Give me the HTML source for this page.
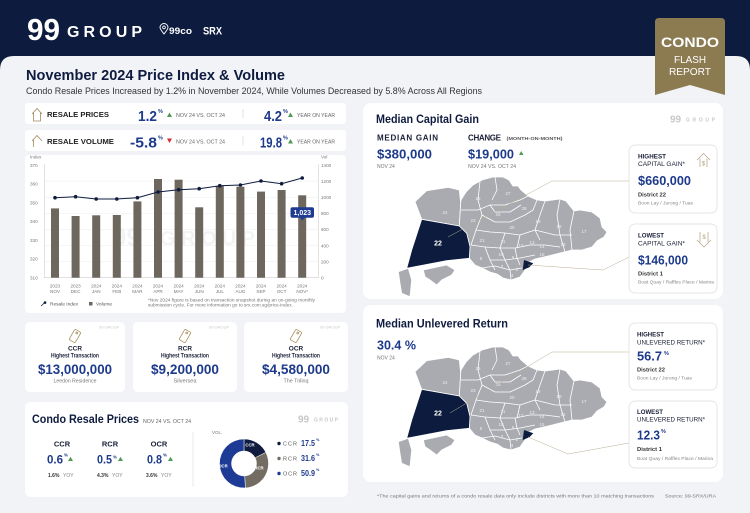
<!DOCTYPE html>
<html><head><meta charset="utf-8"><style>html,body{margin:0;padding:0;background:#f1f3f7}svg{display:block}</style></head>
<body>
<svg width="750" height="513" viewBox="0 0 750 513" xmlns="http://www.w3.org/2000/svg" font-family="'Liberation Sans', sans-serif">
<rect width="750" height="513" fill="#0c1b3e"/>
<path d="M0,70 Q0,56 14,56 L736,56 Q750,56 750,70 L750,513 L0,513 Z" fill="#f1f3f7"/>

<!-- header logo -->
<text x="27" y="40" font-size="31" font-weight="bold" fill="#fff" textLength="33" lengthAdjust="spacingAndGlyphs">99</text>
<text x="67" y="37" font-size="16" font-weight="bold" fill="#fff" textLength="75" lengthAdjust="spacing">GROUP</text>
<path d="M164,34 C161,30 160,29 160,27.5 A4,4 0 0 1 168,27.5 C168,29 167,30 164,34 Z M164,26 A1.4,1.4 0 1 0 164.01,26 Z" fill="none" stroke="#fff" stroke-width="0.9"/>
<text x="169" y="34" font-size="9.5" font-weight="bold" fill="#fff" textLength="23" lengthAdjust="spacingAndGlyphs">99co</text>
<text x="203" y="34.5" font-size="11" font-weight="bold" fill="#fff" textLength="19" lengthAdjust="spacingAndGlyphs">SRX</text>

<!-- ribbon -->
<path d="M655,22 Q655,18 659,18 L721,18 Q725,18 725,22 L725,95 L690,85 L655,95 Z" fill="#8c7a51"/>
<text x="690" y="47" font-size="14" font-weight="bold" fill="#fff" text-anchor="middle" textLength="58" lengthAdjust="spacingAndGlyphs">CONDO</text>
<text x="690" y="63" font-size="10" fill="#fff" text-anchor="middle" textLength="32" lengthAdjust="spacingAndGlyphs">FLASH</text>
<text x="690" y="75" font-size="10" fill="#fff" text-anchor="middle" textLength="42" lengthAdjust="spacingAndGlyphs">REPORT</text>

<!-- title -->
<text x="26" y="80" font-size="15" font-weight="bold" fill="#0f1c3f" textLength="259" lengthAdjust="spacingAndGlyphs">November 2024 Price Index &amp; Volume</text>
<text x="26" y="94" font-size="9" fill="#333" textLength="456" lengthAdjust="spacingAndGlyphs">Condo Resale Prices Increased by 1.2% in November 2024, While Volumes Decreased by 5.8% Across All Regions</text>

<!-- resale rows -->
<rect x="25" y="103" width="321" height="21" rx="3" fill="#fff"/>
<rect x="25" y="130" width="321" height="21" rx="3" fill="#fff"/>
<path d="M32,114 L37,108.5 L42,114 M33.5,112.5 V121 H40.5 V112.5" fill="none" stroke="#a08a5a" stroke-width="0.8"/>
<path d="M32,141 L37,135.5 L42,141 M33.5,139.5 V147" fill="none" stroke="#a08a5a" stroke-width="0.8"/>
<text x="47" y="117" font-size="7.5" font-weight="bold" fill="#222" textLength="62" lengthAdjust="spacingAndGlyphs">RESALE PRICES</text>
<text x="138" y="121" font-size="15" font-weight="bold" fill="#1d3a8c" textLength="19" lengthAdjust="spacingAndGlyphs">1.2</text>
<text x="158" y="113" font-size="5.5" font-weight="bold" fill="#1d3a8c">%</text>
<polygon points="167,117 172,117 169.5,112.5" fill="#4f9a57"/>
<text x="176" y="117" font-size="5" fill="#666" textLength="49" lengthAdjust="spacingAndGlyphs">NOV 24 VS. OCT 24</text>
<line x1="243" y1="109" x2="243" y2="118" stroke="#ccc" stroke-width="0.6"/>
<text x="264" y="121" font-size="15" font-weight="bold" fill="#1d3a8c" textLength="18" lengthAdjust="spacingAndGlyphs">4.2</text>
<text x="283" y="113" font-size="5.5" font-weight="bold" fill="#1d3a8c">%</text>
<polygon points="288,117 293,117 290.5,112.5" fill="#4f9a57"/>
<text x="297" y="117" font-size="5" fill="#666" textLength="38" lengthAdjust="spacingAndGlyphs">YEAR ON YEAR</text>

<text x="47" y="144" font-size="7.5" font-weight="bold" fill="#222" textLength="67" lengthAdjust="spacingAndGlyphs">RESALE VOLUME</text>
<text x="130" y="147.5" font-size="15" font-weight="bold" fill="#1d3a8c" textLength="27" lengthAdjust="spacingAndGlyphs">-5.8</text>
<text x="158" y="139.5" font-size="5.5" font-weight="bold" fill="#1d3a8c">%</text>
<polygon points="167,138.5 172,138.5 169.5,143" fill="#d62c2c"/>
<text x="176" y="143.5" font-size="5" fill="#666" textLength="49" lengthAdjust="spacingAndGlyphs">NOV 24 VS. OCT 24</text>
<line x1="243" y1="136" x2="243" y2="145" stroke="#ccc" stroke-width="0.6"/>
<text x="260" y="147.5" font-size="15" font-weight="bold" fill="#1d3a8c" textLength="22" lengthAdjust="spacingAndGlyphs">19.8</text>
<text x="283" y="139.5" font-size="5.5" font-weight="bold" fill="#1d3a8c">%</text>
<polygon points="288,143.5 293,143.5 290.5,139" fill="#4f9a57"/>
<text x="297" y="143.5" font-size="5" fill="#666" textLength="38" lengthAdjust="spacingAndGlyphs">YEAR ON YEAR</text>

<!-- chart card -->
<rect x="25" y="155" width="321" height="158" rx="4" fill="#fff"/>
<text x="112" y="246" font-size="26" font-weight="bold" fill="#000" opacity="0.045">99</text>
<text x="160" y="245" font-size="20" font-weight="bold" fill="#000" opacity="0.045" textLength="95" lengthAdjust="spacing">GROUP</text>
<g stroke="#ececec" stroke-width="0.5">
<line x1="44" y1="181.1" x2="318" y2="181.1"/><line x1="44" y1="197.2" x2="318" y2="197.2"/><line x1="44" y1="213.3" x2="318" y2="213.3"/><line x1="44" y1="229.4" x2="318" y2="229.4"/><line x1="44" y1="245.5" x2="318" y2="245.5"/><line x1="44" y1="261.6" x2="318" y2="261.6"/>
</g>
<g stroke="#cfcfcf" stroke-width="0.6">
<line x1="44.3" y1="164" x2="44.3" y2="277.7"/><line x1="318.3" y1="164" x2="318.3" y2="277.7"/><line x1="44" y1="277.7" x2="318.3" y2="277.7"/>
</g>
<g font-size="4.6" fill="#777">
<text x="30" y="158.5">Index</text><text x="321" y="158.5">Vol</text>
<text x="30" y="166.8">370</text><text x="30" y="185.6">360</text><text x="30" y="204.4">350</text><text x="30" y="223.2">340</text><text x="30" y="241.9">330</text><text x="30" y="260.7">320</text><text x="30" y="279.5">310</text>
<text x="321" y="166.8">1400</text><text x="321" y="182.9">1200</text><text x="321" y="199">1000</text><text x="321" y="215.1">800</text><text x="321" y="231.2">600</text><text x="321" y="247.3">400</text><text x="321" y="263.4">200</text><text x="321" y="279.5">0</text>
</g>
<g fill="#6e675e">
<rect x="51" y="208.4" width="8" height="69.3"/><rect x="71.6" y="216" width="8" height="61.7"/><rect x="92.2" y="215.3" width="8" height="62.4"/><rect x="112.8" y="215" width="8" height="62.7"/><rect x="133.4" y="201.4" width="8" height="76.3"/><rect x="154" y="179" width="8" height="98.7"/><rect x="174.6" y="179.7" width="8" height="98"/><rect x="195.2" y="207.3" width="8" height="70.4"/><rect x="215.8" y="186" width="8" height="91.7"/><rect x="236.4" y="186.7" width="8" height="91"/><rect x="257" y="191.6" width="8" height="86.1"/><rect x="277.6" y="190" width="8" height="87.7"/><rect x="298.2" y="195.3" width="8" height="82.4"/>
</g>
<polyline points="55,197.7 75.6,196.7 96.2,199 116.8,199 137.4,197.7 158,192 178.6,189.7 199.2,188.7 219.8,185.7 240.4,185 261,181 281.6,183.7 302.2,178" fill="none" stroke="#0f1c3f" stroke-width="1"/>
<g fill="#0f1c3f">
<circle cx="55" cy="197.7" r="1.8"/><circle cx="75.6" cy="196.7" r="1.8"/><circle cx="96.2" cy="199" r="1.8"/><circle cx="116.8" cy="199" r="1.8"/><circle cx="137.4" cy="197.7" r="1.8"/><circle cx="158" cy="192" r="1.8"/><circle cx="178.6" cy="189.7" r="1.8"/><circle cx="199.2" cy="188.7" r="1.8"/><circle cx="219.8" cy="185.7" r="1.8"/><circle cx="240.4" cy="185" r="1.8"/><circle cx="261" cy="181" r="1.8"/><circle cx="281.6" cy="183.7" r="1.8"/><circle cx="302.2" cy="178" r="1.8"/>
</g>
<rect x="290.5" y="207.3" width="23.5" height="10.5" rx="2" fill="#1f3a93"/>
<polygon points="300,217.6 304.6,217.6 302.3,220.5" fill="#1f3a93"/>
<text x="302.3" y="215" font-size="7" font-weight="bold" fill="#fff" text-anchor="middle">1,023</text>
<g font-size="4.6" fill="#777" text-anchor="middle">
<text x="55" y="287.5">2023</text><text x="55" y="292.8">NOV</text>
<text x="75.6" y="287.5">2023</text><text x="75.6" y="292.8">DEC</text>
<text x="96.2" y="287.5">2024</text><text x="96.2" y="292.8">JAN</text>
<text x="116.8" y="287.5">2024</text><text x="116.8" y="292.8">FEB</text>
<text x="137.4" y="287.5">2024</text><text x="137.4" y="292.8">MAR</text>
<text x="158" y="287.5">2024</text><text x="158" y="292.8">APR</text>
<text x="178.6" y="287.5">2024</text><text x="178.6" y="292.8">MAY</text>
<text x="199.2" y="287.5">2024</text><text x="199.2" y="292.8">JUN</text>
<text x="219.8" y="287.5">2024</text><text x="219.8" y="292.8">JUL</text>
<text x="240.4" y="287.5">2024</text><text x="240.4" y="292.8">AUG</text>
<text x="261" y="287.5">2024</text><text x="261" y="292.8">SEP</text>
<text x="281.6" y="287.5">2024</text><text x="281.6" y="292.8">OCT</text>
<text x="302.2" y="287.5">2024</text><text x="302.2" y="292.8">NOV*</text>
</g>
<line x1="41" y1="306" x2="45.5" y2="302" stroke="#0f1c3f" stroke-width="0.8"/><circle cx="45" cy="302.6" r="1.3" fill="#0f1c3f"/>
<text x="50" y="305.5" font-size="4.8" fill="#555">Resale Index</text>
<rect x="89" y="302" width="3.5" height="3.5" fill="#6e675e"/>
<text x="96" y="305.5" font-size="4.8" fill="#555">Volume</text>
<text x="148" y="301.7" font-size="4.2" fill="#777" textLength="167" lengthAdjust="spacingAndGlyphs">*Nov 2024 figure is based on transaction snapshot during an on-going monthly</text>
<text x="148" y="306.7" font-size="4.2" fill="#777" textLength="145" lengthAdjust="spacingAndGlyphs">submission cycle. For more information go to srx.com.sg/price-index.</text>

<!-- transaction cards -->
<rect x="25" y="322" width="100" height="70" rx="5" fill="#fff"/>
<rect x="133" y="322" width="104" height="70" rx="5" fill="#fff"/>
<rect x="244" y="322" width="104" height="70" rx="5" fill="#fff"/>
<g fill="none" stroke="#a88f5c" stroke-width="0.8">
<g transform="translate(75,336) rotate(30)"><rect x="-3.5" y="-6" width="7" height="12" rx="1.5"/><circle cx="0" cy="-3.5" r="0.9"/></g>
<g transform="translate(185,336) rotate(30)"><rect x="-3.5" y="-6" width="7" height="12" rx="1.5"/><circle cx="0" cy="-3.5" r="0.9"/></g>
<g transform="translate(296,336) rotate(30)"><rect x="-3.5" y="-6" width="7" height="12" rx="1.5"/><circle cx="0" cy="-3.5" r="0.9"/></g>
</g>
<g font-size="4" fill="#ccc">
<text x="99" y="328.5">99 GROUP</text><text x="209" y="328.5">99 GROUP</text><text x="320" y="328.5">99 GROUP</text>
</g>
<g text-anchor="middle">
<text x="75" y="350.7" font-size="6.5" font-weight="bold" fill="#1a1f36">CCR</text>
<text x="75" y="357.3" font-size="6.5" font-weight="bold" fill="#1a1f36" textLength="48" lengthAdjust="spacingAndGlyphs">Highest Transaction</text>
<text x="75" y="374" font-size="13.5" font-weight="bold" fill="#1d3a8c" textLength="74" lengthAdjust="spacingAndGlyphs">$13,000,000</text>
<text x="75" y="382.7" font-size="5" fill="#777" textLength="43" lengthAdjust="spacingAndGlyphs">Leedon Residence</text>
<text x="185" y="350.7" font-size="6.5" font-weight="bold" fill="#1a1f36">RCR</text>
<text x="185" y="357.3" font-size="6.5" font-weight="bold" fill="#1a1f36" textLength="48" lengthAdjust="spacingAndGlyphs">Highest Transaction</text>
<text x="185" y="374" font-size="13.5" font-weight="bold" fill="#1d3a8c" textLength="68" lengthAdjust="spacingAndGlyphs">$9,200,000</text>
<text x="185" y="382.7" font-size="5" fill="#777" textLength="23" lengthAdjust="spacingAndGlyphs">Silversea</text>
<text x="296" y="350.7" font-size="6.5" font-weight="bold" fill="#1a1f36">OCR</text>
<text x="296" y="357.3" font-size="6.5" font-weight="bold" fill="#1a1f36" textLength="48" lengthAdjust="spacingAndGlyphs">Highest Transaction</text>
<text x="296" y="374" font-size="13.5" font-weight="bold" fill="#1d3a8c" textLength="68" lengthAdjust="spacingAndGlyphs">$4,580,000</text>
<text x="296" y="382.7" font-size="5" fill="#777" textLength="25" lengthAdjust="spacingAndGlyphs">The Trilinq</text>
</g>

<!-- condo resale prices card -->
<rect x="25" y="402" width="323" height="95" rx="6" fill="#fff"/>
<text x="32" y="423" font-size="11.5" font-weight="bold" fill="#0f1c3f" textLength="107" lengthAdjust="spacingAndGlyphs">Condo Resale Prices</text>
<text x="143" y="423" font-size="5" fill="#666" textLength="48" lengthAdjust="spacingAndGlyphs">NOV 24 VS. OCT 24</text>
<text x="298" y="422.5" font-size="10" font-weight="bold" fill="#c8c8c8">99</text>
<text x="314" y="421.5" font-size="5" font-weight="bold" fill="#c8c8c8" textLength="24" lengthAdjust="spacing">GROUP</text>
<g font-size="7.5" font-weight="bold" fill="#1a1f36" text-anchor="middle">
<text x="62" y="446.7">CCR</text><text x="110" y="446.7">RCR</text><text x="159" y="446.7">OCR</text>
</g>
<g font-size="12" font-weight="bold" fill="#1d3a8c">
<text x="47" y="463.3" textLength="16" lengthAdjust="spacingAndGlyphs">0.6</text>
<text x="97" y="463.3" textLength="15" lengthAdjust="spacingAndGlyphs">0.5</text>
<text x="147" y="463.3" textLength="15" lengthAdjust="spacingAndGlyphs">0.8</text>
</g>
<g font-size="4.5" font-weight="bold" fill="#1d3a8c">
<text x="64" y="456.5">%</text><text x="113" y="458.5">%</text><text x="163" y="456.5">%</text>
</g>
<g fill="#4f9a57">
<polygon points="68,461 73,461 70.5,456.8"/><polygon points="118,461 123,461 120.5,456.8"/><polygon points="168,461 173,461 170.5,456.8"/>
</g>
<g font-size="5">
<text x="48" y="477" fill="#333" font-weight="bold">1.6%</text><text x="63" y="477" fill="#888">YOY</text>
<text x="97" y="477" fill="#333" font-weight="bold">4.3%</text><text x="112" y="477" fill="#888">YOY</text>
<text x="146" y="477" fill="#333" font-weight="bold">3.6%</text><text x="161" y="477" fill="#888">YOY</text>
</g>
<line x1="193" y1="432" x2="193" y2="487" stroke="#e0e0e0" stroke-width="0.7"/>
<text x="212" y="434" font-size="4.5" fill="#777">VOL.</text>
<g stroke="#fff" stroke-width="0.5">
<path d="M244,439 A24.5,24.5 0 0 1 265.83,452.38 L255.14,457.82 A12.5,12.5 0 0 0 244,451 Z" fill="#0f1c3f"/>
<path d="M265.83,452.38 A24.5,24.5 0 0 1 245.37,487.96 L244.7,475.98 A12.5,12.5 0 0 0 255.14,457.82 Z" fill="#736c62"/>
<path d="M245.37,487.96 A24.5,24.5 0 1 1 244,439 L244,451 A12.5,12.5 0 1 0 244.7,475.98 Z" fill="#1d3a94"/>
</g>
<g font-size="4.3" font-weight="bold" fill="#fff" text-anchor="middle">
<text x="250" y="446.5">CCR</text><text x="259" y="469.5">RCR</text><text x="223" y="467.5">OCR</text>
</g>
<circle cx="279" cy="443.5" r="1.7" fill="#0f1c3f"/>
<circle cx="279" cy="458.5" r="1.7" fill="#736c62"/>
<circle cx="279" cy="473.5" r="1.7" fill="#1d3a94"/>
<g font-size="5.5" fill="#555">
<text x="283" y="445.5" textLength="14" lengthAdjust="spacing">CCR</text>
<text x="283" y="460.5" textLength="14" lengthAdjust="spacing">RCR</text>
<text x="283" y="475.5" textLength="14" lengthAdjust="spacing">OCR</text>
</g>
<g font-size="8" font-weight="bold" fill="#1d3a8c">
<text x="301" y="446" textLength="14" lengthAdjust="spacingAndGlyphs">17.5</text>
<text x="301" y="461" textLength="14" lengthAdjust="spacingAndGlyphs">31.6</text>
<text x="301" y="476" textLength="14" lengthAdjust="spacingAndGlyphs">50.9</text>
</g>
<g font-size="3.8" font-weight="bold" fill="#1d3a8c">
<text x="316" y="441">%</text><text x="316" y="456">%</text><text x="316" y="471">%</text>
</g>

<!-- right cards -->
<rect x="363" y="103" width="360" height="196" rx="8" fill="#fff"/>
<rect x="363" y="305" width="360" height="177" rx="8" fill="#fff"/>

<defs>
<g id="sgmap" stroke="#fff" stroke-width="0.8" stroke-linejoin="round">
<polygon fill="#a9abb0" points="415,201.7 426.7,190.7 448.3,187.3 459.3,190 460.7,203.3 459.3,226 421.7,219.3"/>
<polygon fill="#a9abb0" points="398.3,271.7 408.3,268.3 411.7,280 410,296.7 401.7,293.3 400,283.3"/>
<polygon fill="#a9abb0" points="423.3,270 446.7,265 455,270 451.7,275 441.7,280 436.7,285 430,280 425,276.7"/>
<polygon fill="#a9abb0" points="461,200 466,192 473,185 482,180 493,177 503,177 509,180 513,186 518,186 521,190 528,196 537,200 545,201 553,200 560,199 566,201 570,206 574,211 580,210 592,212 600,218 602,227 607,232 604,237 597,241 592,247 582,250 572,250 560,253 548,256 535,259 529,262 525,270 520,277 511,280 503,278 497,274 490,272 482,268 475,265 469.3,258.3 470,246.7 466.7,233.3 459.3,226 460.7,203.3"/>
<polygon fill="#0c1b3e" points="421.7,219.3 459.3,226 466.7,233.3 470,246.7 469.3,258.3 446.7,260.7 406.7,268.3 411.7,250"/>
<g fill="none">
<polyline points="480,181 478,200 482,215 476,230 471,245"/>
<polyline points="495,177 497,190 492,200"/>
<polyline points="461,210 478,210 490,205 505,205 520,200 528,196"/>
<polyline points="490,205 495,212 510,212 521,205"/>
<polyline points="482,215 495,222 510,222 525,215 533,210 537,200"/>
<polyline points="545,201 540,215 535,230 540,240"/>
<polyline points="560,199 557,215 560,235 565,252"/>
<polyline points="574,211 570,230 572,250"/>
<polyline points="476,230 490,232 505,233 520,235 535,230 555,235 572,235"/>
<polyline points="471,245 485,247 500,248 515,248 530,245 545,245 560,247"/>
<polyline points="485,247 490,260 495,270"/>
<polyline points="500,248 505,260 510,270 511,280"/>
<polyline points="515,248 517,258 520,265"/>
<polyline points="505,233 500,248"/>
<polyline points="520,235 517,248"/>
<polyline points="490,260 505,260 520,258 535,255"/>
<polyline points="482,268 495,266 510,270 522,268"/>
</g>
<polygon fill="#0c1b3e" stroke="none" points="524,260 533.3,263.3 529.3,267.3 522.7,270"/>
</g>
</defs>

<!-- Card 1 content -->
<text x="376" y="123" font-size="11.5" font-weight="bold" fill="#0f1c3f" textLength="103" lengthAdjust="spacingAndGlyphs">Median Capital Gain</text>
<text x="670" y="122.5" font-size="10" font-weight="bold" fill="#c8c8c8">99</text>
<text x="686" y="121.5" font-size="5" font-weight="bold" fill="#c8c8c8" textLength="29" lengthAdjust="spacing">GROUP</text>
<text x="377" y="140.7" font-size="8" font-weight="bold" fill="#1a1f36" textLength="61" lengthAdjust="spacing">MEDIAN GAIN</text>
<text x="468" y="140.7" font-size="8" font-weight="bold" fill="#1a1f36" textLength="33" lengthAdjust="spacing">CHANGE</text>
<text x="506.5" y="140.2" font-size="4.3" font-weight="bold" fill="#555" textLength="56" lengthAdjust="spacingAndGlyphs">(MONTH-ON-MONTH)</text>
<text x="377" y="158.3" font-size="13" font-weight="bold" fill="#1d3a8c" textLength="55" lengthAdjust="spacingAndGlyphs">$380,000</text>
<text x="468" y="158.3" font-size="13" font-weight="bold" fill="#1d3a8c" textLength="46" lengthAdjust="spacingAndGlyphs">$19,000</text>
<polygon points="519,155 523.5,155 521.2,151" fill="#4f9a57"/>
<text x="377" y="168" font-size="5" fill="#777">NOV 24</text>
<text x="468" y="168" font-size="5" fill="#777" textLength="48" lengthAdjust="spacingAndGlyphs">NOV 24 VS. OCT 24</text>

<use href="#sgmap"/>
<g font-size="4.5" fill="#eceef2" text-anchor="middle">
<text x="445" y="214">24</text><text x="478" y="200">25</text><text x="508" y="195">27</text><text x="498" y="216">26</text><text x="524" y="210">28</text><text x="473" y="222">23</text><text x="512" y="229">20</text><text x="538" y="223">19</text><text x="559" y="228">18</text><text x="584" y="233">17</text><text x="482" y="242">21</text><text x="503" y="243">11</text><text x="521" y="247">12</text><text x="532" y="244">13</text><text x="542" y="248">14</text><text x="563" y="246">16</text><text x="542" y="256">15</text><text x="501" y="256">10</text><text x="513" y="259">9</text><text x="481" y="260">5</text><text x="502" y="268">3</text><text x="517" y="271">2</text><text x="512" y="277">4</text>
</g>
<text x="438" y="245.5" font-size="7" font-weight="bold" fill="#fff" text-anchor="middle">22</text>
<polyline points="448,237 552,181 629,181" fill="none" stroke="#b9ae94" stroke-width="0.5"/>
<polyline points="528,265 603,270 629,257" fill="none" stroke="#b9ae94" stroke-width="0.5"/>

<rect x="629" y="145" width="88" height="68" rx="6" fill="#fff" stroke="#dcdcdc" stroke-width="0.7"/>
<text x="638" y="158.7" font-size="6.5" font-weight="bold" fill="#1a1f36" textLength="28" lengthAdjust="spacingAndGlyphs">HIGHEST</text>
<text x="638" y="166" font-size="6.5" fill="#1a1f36" textLength="47" lengthAdjust="spacingAndGlyphs">CAPITAL GAIN*</text>
<path d="M697,160 L703.5,153.5 L710,160 M700,158.5 V167 M707,158.5 V167" fill="none" stroke="#b0a27f" stroke-width="0.7"/>
<text x="703.5" y="165.5" font-size="6" fill="#b0a27f" text-anchor="middle">$</text>
<text x="638" y="185" font-size="12.5" font-weight="bold" fill="#1d3a8c" textLength="53" lengthAdjust="spacingAndGlyphs">$660,000</text>
<text x="638" y="196.7" font-size="5.5" font-weight="bold" fill="#333" textLength="28" lengthAdjust="spacingAndGlyphs">District 22</text>
<text x="638" y="204.3" font-size="4.5" fill="#888" textLength="55" lengthAdjust="spacingAndGlyphs">Boon Lay / Jurong / Tuas</text>

<rect x="629" y="224" width="88" height="69" rx="6" fill="#fff" stroke="#dcdcdc" stroke-width="0.7"/>
<text x="638" y="237.7" font-size="6.5" font-weight="bold" fill="#1a1f36" textLength="26" lengthAdjust="spacingAndGlyphs">LOWEST</text>
<text x="638" y="245.7" font-size="6.5" fill="#1a1f36" textLength="47" lengthAdjust="spacingAndGlyphs">CAPITAL GAIN*</text>
<path d="M697,240 L704,247 L711,240 M700,242 V232 M708,242 V232" fill="none" stroke="#b0a27f" stroke-width="0.7"/>
<text x="704" y="239" font-size="6" fill="#b0a27f" text-anchor="middle">$</text>
<text x="638" y="264.3" font-size="12.5" font-weight="bold" fill="#1d3a8c" textLength="50" lengthAdjust="spacingAndGlyphs">$146,000</text>
<text x="638" y="275.5" font-size="5.5" font-weight="bold" fill="#333" textLength="25" lengthAdjust="spacingAndGlyphs">District 1</text>
<text x="638" y="283.5" font-size="4.5" fill="#888" textLength="76" lengthAdjust="spacingAndGlyphs">Boat Quay / Raffles Place / Marina</text>

<!-- Card 2 content -->
<text x="376" y="327.3" font-size="11.5" font-weight="bold" fill="#0f1c3f" textLength="132" lengthAdjust="spacingAndGlyphs">Median Unlevered Return</text>
<text x="377" y="349.3" font-size="13" font-weight="bold" fill="#1d3a8c" textLength="39" lengthAdjust="spacingAndGlyphs">30.4 %</text>
<text x="377" y="359.5" font-size="5" fill="#777">NOV 24</text>

<use href="#sgmap" transform="translate(0,170)"/>
<g font-size="4.5" fill="#eceef2" text-anchor="middle" transform="translate(0,170)">
<text x="445" y="214">24</text><text x="478" y="200">25</text><text x="508" y="195">27</text><text x="498" y="216">26</text><text x="524" y="210">28</text><text x="473" y="222">23</text><text x="512" y="229">20</text><text x="538" y="223">19</text><text x="559" y="228">18</text><text x="584" y="233">17</text><text x="482" y="242">21</text><text x="503" y="243">11</text><text x="521" y="247">12</text><text x="532" y="244">13</text><text x="542" y="248">14</text><text x="563" y="246">16</text><text x="542" y="256">15</text><text x="501" y="256">10</text><text x="513" y="259">9</text><text x="481" y="260">5</text><text x="502" y="268">3</text><text x="517" y="271">2</text><text x="512" y="277">4</text>
</g>
<text x="438" y="415.5" font-size="7" font-weight="bold" fill="#fff" text-anchor="middle">22</text>
<polyline points="450,413 552,352 629,352" fill="none" stroke="#b9ae94" stroke-width="0.5"/>
<polyline points="528,437 568,454 629,443" fill="none" stroke="#b9ae94" stroke-width="0.5"/>

<rect x="629" y="323" width="88" height="67" rx="6" fill="#fff" stroke="#dcdcdc" stroke-width="0.7"/>
<text x="637" y="336.7" font-size="6.5" font-weight="bold" fill="#1a1f36" textLength="27" lengthAdjust="spacingAndGlyphs">HIGHEST</text>
<text x="637" y="344.3" font-size="6.5" fill="#1a1f36" textLength="68" lengthAdjust="spacingAndGlyphs">UNLEVERED RETURN*</text>
<text x="637" y="360.7" font-size="12.5" font-weight="bold" fill="#1d3a8c" textLength="25" lengthAdjust="spacingAndGlyphs">56.7</text>
<text x="664" y="355" font-size="5.5" font-weight="bold" fill="#1d3a8c">%</text>
<text x="637" y="371.7" font-size="5.5" font-weight="bold" fill="#333" textLength="28" lengthAdjust="spacingAndGlyphs">District 22</text>
<text x="637" y="379.3" font-size="4.5" fill="#888" textLength="55" lengthAdjust="spacingAndGlyphs">Boon Lay / Jurong / Tuas</text>

<rect x="629" y="401" width="88" height="67" rx="6" fill="#fff" stroke="#dcdcdc" stroke-width="0.7"/>
<text x="637" y="414" font-size="6.5" font-weight="bold" fill="#1a1f36" textLength="26" lengthAdjust="spacingAndGlyphs">LOWEST</text>
<text x="637" y="421.7" font-size="6.5" fill="#1a1f36" textLength="68" lengthAdjust="spacingAndGlyphs">UNLEVERED RETURN*</text>
<text x="637" y="439.3" font-size="12.5" font-weight="bold" fill="#1d3a8c" textLength="23" lengthAdjust="spacingAndGlyphs">12.3</text>
<text x="661" y="433" font-size="5.5" font-weight="bold" fill="#1d3a8c">%</text>
<text x="637" y="451" font-size="5.5" font-weight="bold" fill="#333" textLength="25" lengthAdjust="spacingAndGlyphs">District 1</text>
<text x="637" y="460" font-size="4.5" fill="#888" textLength="76" lengthAdjust="spacingAndGlyphs">Boat Quay / Raffles Place / Marina</text>

<text x="377" y="497.3" font-size="4.6" fill="#777" textLength="277" lengthAdjust="spacingAndGlyphs">*The capital gains and returns of a condo resale data only include districts with more than 10 matching transactions</text>
<text x="665" y="497.3" font-size="4.6" fill="#777" textLength="51" lengthAdjust="spacingAndGlyphs">Source: 99-SRX/URA</text>
</svg>
</body></html>
